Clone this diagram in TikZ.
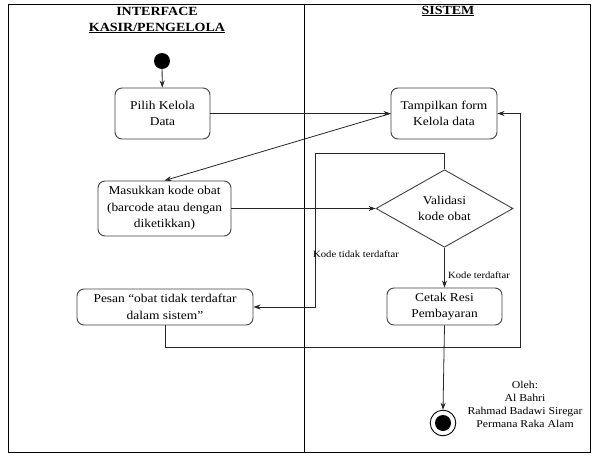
\documentclass[tikz,border=0pt]{standalone}
\usepackage{fontspec}
\setmainfont{Liberation Serif}[FakeStretch=1.12]
\usetikzlibrary{shapes.geometric,arrows.meta}
\tikzset{
  actbox/.style={draw=black!75,line width=0.9pt,rounded corners=7pt,align=center,inner sep=0pt,
    font=\fontsize{12}{16.5}\selectfont},
  arr/.style={draw=black!85,line width=0.8pt,-{Stealth[length=7pt,width=5pt]}},
  plain/.style={draw=black!85,line width=0.8pt},
  lbl/.style={font=\fontsize{9.5}{11}\selectfont,inner sep=0pt,anchor=west},
  ttl/.style={font=\bfseries\fontsize{12.5}{17}\selectfont,align=center,inner sep=0pt}
}
\begin{document}
\begin{tikzpicture}[x=1pt,y=-1pt]
\useasboundingbox (0,0) rectangle (597,460);
% swimlanes
\draw[line width=0.9pt] (8,4) rectangle (590,452);
\draw[line width=0.9pt] (304,4) -- (304,452);
\node[ttl] (t1) at (157,11) {INTERFACE};
\node[ttl] (t2) at (157,28) {\underline{KASIR/PENGELOLA}};
\node[ttl] (t3) at (448,11) {\underline{SISTEM}};
% nodes
\node[circle,fill=black,minimum size=16pt,inner sep=0pt] (start) at (162,61) {};
\node[actbox,minimum width=95pt,minimum height=51pt] (pilih) at (162.5,113.5) {Pilih Kelola\\Data};
\node[actbox,minimum width=106pt,minimum height=51pt] (tampil) at (444,113.5) {Tampilkan form\\Kelola data};
\node[actbox,minimum width=133pt,minimum height=55pt] (masuk) at (164.5,208.5) {Masukkan kode obat\\(barcode atau dengan\\diketikkan)};
\node[diamond,draw=black!75,line width=0.9pt,minimum width=137pt,minimum height=69pt,inner sep=0pt,align=center,
  font=\fontsize{12}{16.5}\selectfont] (valid) at (444.5,208.5) {Validasi\\kode obat};
\node[actbox,minimum width=176pt,minimum height=36pt] (pesan) at (165,307) {Pesan \textquotedblleft obat tidak terdaftar\\dalam sistem\textquotedblright};
\node[actbox,minimum width=115pt,minimum height=37pt] (cetak) at (444.5,306.5) {Cetak Resi\\Pembayaran};
\node[circle,draw=black,line width=0.9pt,minimum size=25.6pt,inner sep=0pt] (end) at (443,423) {};
\node[circle,fill=black,minimum size=16pt,inner sep=0pt] (endin) at (end.center) {};
% bend points
\coordinate (k1) at (315,153);
\coordinate (loopR) at (520,347);
% connectors
\draw[arr] (start) -- (pilih);
\draw[arr] (pilih.east) -- (tampil.west);
\draw[arr] (tampil.west) -- (masuk.north);
\draw[arr] (masuk.east) -- (valid.west);
\draw[arr] (valid.north) |- (k1) |- (pesan.east);
\draw[arr] (valid.south) -- (cetak.north);
\draw[arr] (pesan.south) |- (loopR) |- (tampil.east);
\draw[arr] (cetak.south) -- (end.north);
% labels
\node[lbl] (l1) at (313,254) {Kode tidak terdaftar};
\node[lbl] (l2) at (448,275) {Kode terdaftar};
\node[align=center,inner sep=0pt,font=\fontsize{10.5}{13}\selectfont] (oleh) at (525,404.5) {Oleh:\\Al Bahri\\Rahmad Badawi Siregar\\Permana Raka Alam};
\end{tikzpicture}
\end{document}
